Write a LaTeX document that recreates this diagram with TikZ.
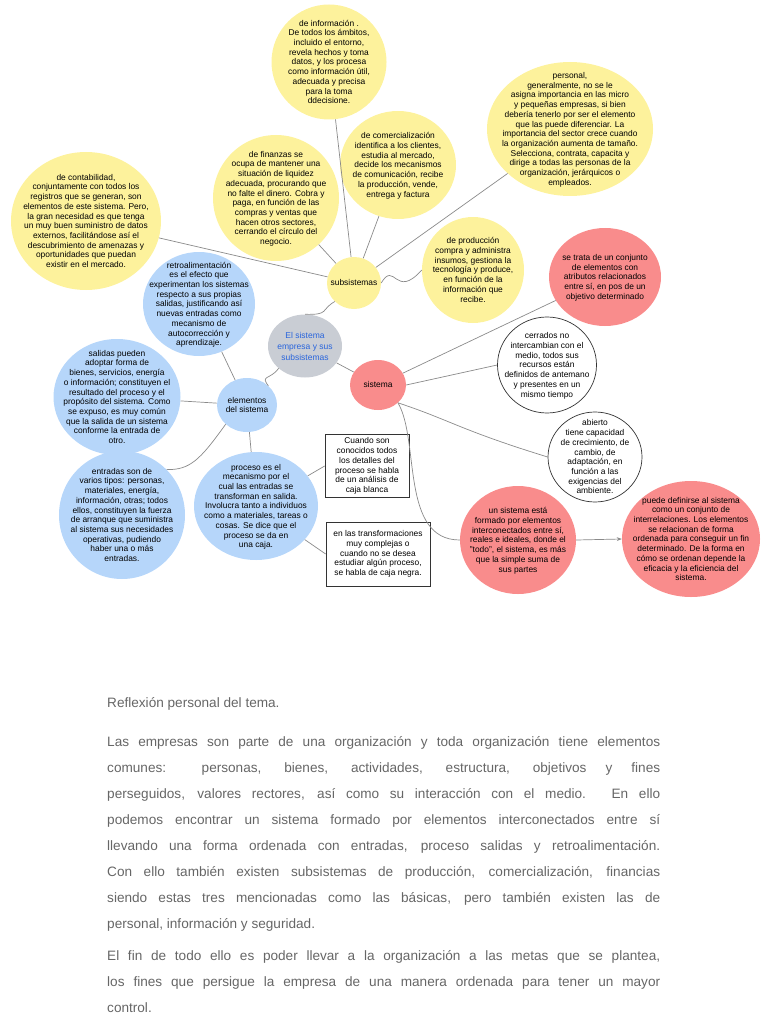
\documentclass[tikz,border=0pt]{standalone}
\usepackage{fontspec}
\setmainfont{Liberation Sans}
\usetikzlibrary{shapes.geometric,arrows.meta}
\definecolor{yel}{HTML}{FDF29C}
\definecolor{blu}{HTML}{B6D6FA}
\definecolor{redd}{HTML}{F98C8C}
\definecolor{gry}{HTML}{C9CDD4}
\definecolor{lnk}{HTML}{8A8A8A}
\newcommand\tx[1]{\makebox[0pt]{\raisebox{-3pt}[0pt][0pt]{\begin{tabular}{@{}c@{}}#1\end{tabular}}}}
\begin{document}
\begin{tikzpicture}[x=1pt,y=-1pt,
  bub/.style={ellipse,inner sep=0pt,font=\fontsize{8.4}{9.7}\selectfont},
  yb/.style={bub,fill=yel},
  bb/.style={bub,fill=blu},
  rb/.style={bub,fill=redd},
  wb/.style={bub,draw=black!80,line width=0.7pt,fill=white},
  box/.style={draw=black!80,line width=0.7pt,fill=white,align=center,font=\fontsize{8.4}{9.7}\selectfont,inner sep=2pt},
  ln/.style={draw=lnk,line width=0.7pt}]
\useasboundingbox (0,0) rectangle (768,1024);
% nodes
\node[yb,minimum width=115,minimum height=115] (info) at (329,62) {\tx{de información .\\De todos los ámbitos,\\incluido el entorno,\\revela hechos y toma\\datos, y los procesa\\como información útil,\\adecuada y precisa\\para la toma\\ddecisione.}};
\node[yb,minimum width=116,minimum height=108] (com) at (398,165) {\tx{de comercialización\\identifica a los clientes,\\estudia al mercado,\\decide los mecanismos\\de comunicación, recibe\\la producción, vende,\\entrega y factura}};
\node[yb,minimum width=126,minimum height=126] (fin) at (276,198) {\tx{de finanzas se\\ocupa de mantener una\\situación de liquidez\\adecuada, procurando que\\no falte el dinero. Cobra y\\paga, en función de las\\compras y ventas que\\hacen otros sectores,\\cerrando el círculo del\\negocio.}};
\node[yb,minimum width=150,minimum height=138] (cont) at (86,221) {\tx{de contabilidad,\\conjuntamente con todos los\\registros que se generan, son\\elementos de este sistema. Pero,\\la gran necesidad es que tenga\\un muy buen suministro de datos\\externos, facilitándose así el\\descubrimiento de amenazas y\\oportunidades que puedan\\existir en el mercado.}};
\node[yb,minimum width=166,minimum height=134] (pers) at (570,129) {\tx{personal,\\generalmente, no se le\\asigna importancia en las micro\\y pequeñas empresas, si bien\\debería tenerlo por ser el elemento\\que las puede diferenciar. La\\importancia del sector crece cuando\\la organización aumenta de tamaño.\\Selecciona, contrata, capacita y\\dirige a todas las personas de la\\organización, jerárquicos o\\empleados.}};
\node[yb,minimum width=102,minimum height=106] (prod) at (473,270) {\tx{de producción\\compra y administra\\insumos, gestiona la\\tecnología y produce,\\en función de la\\información que\\recibe.}};
\node[yb,minimum width=54,minimum height=52] (sub) at (354,283) {\tx{subsistemas}};
\node[rb,minimum width=112,minimum height=98] (trata) at (605,277) {\tx{se trata de un conjunto\\de elementos con\\atributos relacionados\\entre sí, en pos de un\\objetivo determinado}};
\node[bb,minimum width=112,minimum height=104] (retro) at (199,304) {\tx{retroalimentación\\es el efecto que\\experimentan los sistemas\\respecto a sus propias\\salidas, justificando así\\nuevas entradas como\\mecanismo de\\autocorrección y\\aprendizaje.}};
\node[bub,fill=gry,minimum width=74,minimum height=63,font=\fontsize{8.5}{11}\selectfont,text={rgb,255:red,40;green,100;blue,220}] (main) at (305,346) {\tx{El sistema\\empresa y sus\\subsistemas}};
\node[rb,minimum width=56,minimum height=50] (sis) at (378,385) {\tx{sistema}};
\node[wb,minimum width=99,minimum height=96] (cerr) at (547,365) {\tx{cerrados no\\intercambian con el\\medio, todos sus\\recursos están\\definidos de antemano\\y presentes en un\\mismo tiempo}};
\node[wb,minimum width=94,minimum height=90] (abi) at (595,457) {\tx{abierto\\tiene capacidad\\de crecimiento, de\\cambio, de\\adaptación, en\\función a las\\exigencias del\\ambiente.}};
\node[bb,minimum width=127,minimum height=116] (sal) at (117,397) {\tx{salidas pueden\\adoptar forma de\\bienes, servicios, energía\\o información; constituyen el\\resultado del proceso y el\\propósito del sistema. Como\\se expuso, es muy común\\que la salida de un sistema\\conforme la entrada de\\otro.}};
\node[bb,minimum width=60,minimum height=54] (ele) at (247,405) {\tx{elementos\\del sistema}};
\node[bb,minimum width=126,minimum height=128] (ent) at (122,515) {\tx{entradas son de\\varios tipos: personas,\\materiales, energía,\\información, otras; todos\\ellos, constituyen la fuerza\\de arranque que suministra\\al sistema sus necesidades\\operativas, pudiendo\\haber una o más\\entradas.}};
\node[bb,minimum width=124,minimum height=108] (proc) at (256,506) {\tx{proceso es el\\mecanismo por el\\cual las entradas se\\transforman en salida.\\Involucra tanto a individuos\\como a materiales, tareas o\\cosas. Se dice que el\\proceso se da en\\una caja.}};
\node[box,minimum width=84,minimum height=63] (blanca) at (367,466) {Cuando son\\conocidos todos\\los detalles del\\proceso se habla\\de un análisis de\\caja blanca};
\node[box,minimum width=104,minimum height=64] (negra) at (378,554) {en las transformaciones\\muy complejas o\\cuando no se desea\\estudiar algún proceso,\\se habla de caja negra.};
\node[rb,minimum width=116,minimum height=108] (uns) at (518,540) {\tx{un sistema está\\formado por elementos\\interconectados entre sí,\\reales e ideales, donde el\\"todo", el sistema, es más\\que la simple suma de\\sus partes}};
\node[rb,minimum width=138,minimum height=116] (def) at (691,539) {\tx{puede definirse al sistema\\como un conjunto de\\interrelaciones. Los elementos\\se relacionan de forma\\ordenada para conseguir un fin\\determinado. De la forma en\\cómo se ordenan depende la\\eficacia y la eficiencia del\\sistema.}};
% connectors
\draw[ln] (sub) -- (info);
\draw[ln] (sub) -- (com);
\draw[ln] (sub) -- (fin);
\draw[ln] (sub) -- (cont);
\draw[ln] (sub) -- (pers);
\draw[ln] (sub.east) .. controls (395,260) and (395,300) .. (prod.west);
\draw[ln] (sub.south west) .. controls (320,310) and (330,315) .. (main.north);
\draw[ln] (main) -- (sis);
\draw[ln] (main.south west) .. controls (270,380) and (260,375) .. (ele.north east);
\draw[ln] (sis) -- (trata);
\draw[ln] (sis.east) -- (cerr.west);
\draw[ln] (sis.south east) .. controls (450,420) and (460,430) .. (abi.west);
\draw[ln] (sis.south east) .. controls (420,440) and (400,540) .. (uns.west);
\draw[ln,-{Stealth[length=5pt]}] (uns.east) -- (def.west);
\draw[ln] (ele) -- (retro);
\draw[ln] (ele) -- (sal);
\draw[ln] (ele.south west) .. controls (200,460) and (190,470) .. (ent.north east);
\draw[ln] (ele) -- (proc);
\draw[ln] (proc) -- (blanca.west);
\draw[ln] (proc) -- (negra.west);
% paragraph
\node[anchor=north west,inner sep=0pt,text=black!60,font=\fontsize{13.6}{26}\selectfont,text width=553pt,align=justify] (para) at (107,697) {Reflexión personal del tema.\par\vspace{13pt}
Las empresas son parte de una organización y toda organización tiene elementos\linebreak comunes: personas, bienes, actividades, estructura, objetivos y fines\linebreak perseguidos, valores rectores, así como su interacción con el medio. En ello\linebreak podemos encontrar un sistema formado por elementos interconectados entre sí\linebreak llevando una forma ordenada con entradas, proceso salidas y retroalimentación.\linebreak Con ello también existen subsistemas de producción, comercialización, financias\linebreak siendo estas tres mencionadas como las básicas, pero también existen las de\linebreak personal, información y seguridad.\par\vspace{6pt}
El fin de todo ello es poder llevar a la organización a las metas que se plantea,\linebreak los fines que persigue la empresa de una manera ordenada para tener un mayor\linebreak control.};
\end{tikzpicture}
\end{document}
